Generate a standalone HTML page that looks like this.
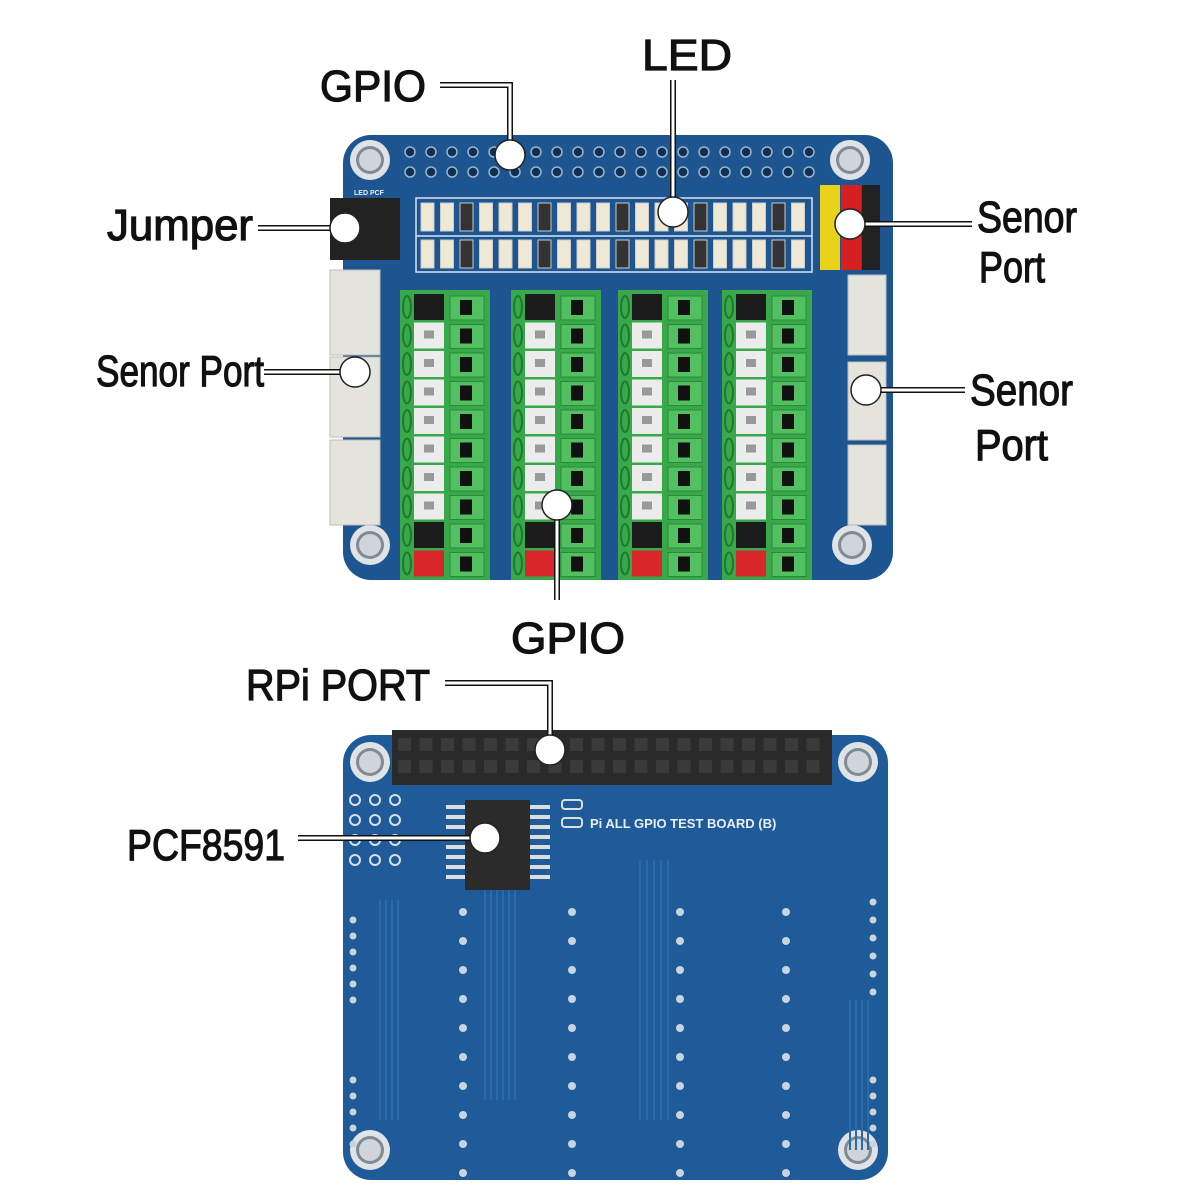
<!DOCTYPE html>
<html><head><meta charset="utf-8"><style>
html,body{margin:0;padding:0;background:#fff;}
svg{display:block;}
.lbl{font-family:"Liberation Sans",sans-serif;font-size:44px;fill:#111;stroke:#111;stroke-width:1.2px;}
.s{font-family:"Liberation Sans",sans-serif;font-size:7px;fill:#e8eef5;font-weight:bold;}
</style></head><body>
<svg id="sv" width="1200" height="1200" viewBox="0 0 1200 1200" xmlns="http://www.w3.org/2000/svg">
<rect width="1200" height="1200" fill="#fff"/>
<rect x="343" y="135" width="550" height="445" rx="28" fill="#1c5590"/>
<g id="top"></g>
<rect x="416" y="198" width="396" height="74" fill="none" stroke="#d8e4f0" stroke-width="1.5"/>
<line x1="416" y1="236" x2="812" y2="236" stroke="#d8e4f0" stroke-width="1.5"/>
<g id="leds"></g>
<rect x="330" y="198" width="70" height="62" fill="#222"/>
<text class="s" x="354" y="195">LED PCF</text>
<rect x="820" y="185" width="20" height="85" fill="#e8d21a"/>
<rect x="841" y="185" width="20" height="85" fill="#d42020"/>
<rect x="862" y="185" width="18" height="85" fill="#222"/>
<rect x="330" y="270" width="50" height="85" fill="#e4e4dc" stroke="#bbb"/>
<rect x="330" y="357" width="50" height="80" fill="#e4e4dc" stroke="#bbb"/>
<rect x="330" y="440" width="50" height="85" fill="#e4e4dc" stroke="#bbb"/>
<rect x="848" y="275" width="38" height="80" fill="#e4e4dc" stroke="#bbb"/>
<rect x="848" y="362" width="38" height="78" fill="#e4e4dc" stroke="#bbb"/>
<rect x="848" y="445" width="38" height="80" fill="#e4e4dc" stroke="#bbb"/>
<g id="terms"></g>
<rect x="343" y="735" width="545" height="445" rx="28" fill="#1f5b98"/>
<rect x="392" y="730" width="440" height="55" fill="#2a2a2a"/>
<g id="bot"></g>
<rect x="465" y="800" width="65" height="90" fill="#2b2b2b"/>
<text x="590" y="828" font-family="Liberation Sans,sans-serif" font-size="13" font-weight="bold" fill="#e8eef5">Pi ALL GPIO TEST BOARD (B)</text>
<rect x="562" y="800" width="20" height="9" rx="3" fill="none" stroke="#ddd" stroke-width="2"/>
<rect x="562" y="818" width="20" height="9" rx="3" fill="none" stroke="#ddd" stroke-width="2"/>
<g id="leaders"></g>
<text class="lbl" x="320" y="101" textLength="106" lengthAdjust="spacingAndGlyphs">GPIO</text>
<text class="lbl" x="642" y="70" textLength="90" lengthAdjust="spacingAndGlyphs">LED</text>
<text class="lbl" x="107" y="240" textLength="146" lengthAdjust="spacingAndGlyphs">Jumper</text>
<text class="lbl" x="96" y="386" font-size="40" textLength="168" lengthAdjust="spacingAndGlyphs">Senor Port</text>
<text class="lbl" x="977" y="232" font-size="40" textLength="100" lengthAdjust="spacingAndGlyphs">Senor</text>
<text class="lbl" x="979" y="282" font-size="40" textLength="66" lengthAdjust="spacingAndGlyphs">Port</text>
<text class="lbl" x="970" y="405" font-size="40" textLength="103" lengthAdjust="spacingAndGlyphs">Senor</text>
<text class="lbl" x="975" y="460" font-size="40" textLength="73" lengthAdjust="spacingAndGlyphs">Port</text>
<text class="lbl" x="511" y="653" textLength="114" lengthAdjust="spacingAndGlyphs">GPIO</text>
<text class="lbl" x="246" y="700" textLength="184" lengthAdjust="spacingAndGlyphs">RPi PORT</text>
<text class="lbl" x="127" y="860" textLength="158" lengthAdjust="spacingAndGlyphs">PCF8591</text>
</svg>
<script>
var NS="http://www.w3.org/2000/svg";
function el(p,t,a){var e=document.createElementNS(NS,t);for(var k in a)e.setAttribute(k,a[k]);document.getElementById(p).appendChild(e);return e;}
function hole(p,x,y){el(p,"circle",{cx:x,cy:y,r:20,fill:"#dfe3e6"});el(p,"circle",{cx:x,cy:y,r:14,fill:"#7e8a94"});el(p,"circle",{cx:x,cy:y,r:11,fill:"#cfd5da"});}
[[370,160],[850,160],[370,545],[852,545]].forEach(function(c){hole("top",c[0],c[1]);});
[[370,762],[858,762],[370,1150],[858,1150]].forEach(function(c){hole("bot",c[0],c[1]);});
for(var i=0;i<20;i++){var x=410+i*21;
 el("top","circle",{cx:x,cy:152,r:5,fill:"#0f2f55",stroke:"#9fb4c8","stroke-width":1.5});
 el("top","circle",{cx:x,cy:172,r:5,fill:"#0f2f55",stroke:"#9fb4c8","stroke-width":1.5});}
for(var r=0;r<2;r++)for(var i=0;i<20;i++){var x=421+i*19.5,y=203+r*37;
 el("leds","rect",{x:x,y:y,width:13,height:28,fill:(i%4==2?"#333":"#efe8d4"),stroke:"#ccc","stroke-width":1});}
for(var r=0;r<3;r++)for(var c=0;c<2;c++)el("top","rect",{x:343+c*30,y:206+r*18,width:8,height:6,fill:"#ddd"});
for(var r=0;r<4;r++)for(var c=0;c<3;c++)el("top","rect",{x:826+c*21,y:192+r*20,width:7,height:7,fill:"#ccc"});
var cols=[400,511,618,722];
cols.forEach(function(cx){
 el("terms","rect",{x:cx,y:290,width:90,height:290,fill:"#38a84a"});
 for(var r=0;r<10;r++){var y=294+r*28.5;
  var f=(r==0||r==8)?"#1b1b1b":(r==9?"#d8262a":"#ececec");
  el("terms","rect",{x:cx+14,y:y,width:30,height:26,fill:f});
  if(r>0&&r<8)el("terms","rect",{x:cx+24,y:y+8,width:10,height:8,fill:"#999"});
  el("terms","rect",{x:cx+50,y:y+2,width:34,height:24,fill:"#52c060",stroke:"#2a8a38","stroke-width":1});
  el("terms","rect",{x:cx+60,y:y+6,width:12,height:15,fill:"#111"});
  el("terms","ellipse",{cx:cx+7,cy:y+13,rx:4,ry:11,fill:"none",stroke:"#1e7a2e","stroke-width":2});
 }
});
for(var r=0;r<2;r++)for(var i=0;i<20;i++)el("bot","rect",{x:398+i*21.5,y:738+r*22,width:13,height:13,fill:"#3a3a3a"});
for(var i=0;i<8;i++){el("bot","rect",{x:446,y:805+i*10,width:20,height:4,fill:"#ddd"});el("bot","rect",{x:530,y:805+i*10,width:20,height:4,fill:"#ddd"});}
for(var r=0;r<4;r++)for(var c=0;c<3;c++)el("bot","circle",{cx:355+c*20,cy:800+r*20,r:5,fill:"none",stroke:"#d8e0e8","stroke-width":2});
[463,572,680,786].forEach(function(x){for(var r=0;r<10;r++)el("bot","circle",{cx:x,cy:912+r*29,r:4,fill:"#c8d4e0"});});
for(var r=0;r<6;r++){el("bot","circle",{cx:353,cy:920+r*16,r:3.5,fill:"#c8d4e0"});el("bot","circle",{cx:873,cy:902+r*18,r:3.5,fill:"#c8d4e0"});}
for(var r=0;r<5;r++){el("bot","circle",{cx:353,cy:1080+r*16,r:3.5,fill:"#c8d4e0"});el("bot","circle",{cx:873,cy:1080+r*16,r:3.5,fill:"#c8d4e0"});}
for(var i=0;i<6;i++){el("bot","line",{x1:485+i*6,y1:890,x2:485+i*6,y2:1100,stroke:"#2a6aaa","stroke-width":2});}
for(var i=0;i<5;i++){el("bot","line",{x1:640+i*7,y1:860,x2:640+i*7,y2:1120,stroke:"#2a6aaa","stroke-width":2});}
for(var i=0;i<4;i++){el("bot","line",{x1:850+i*6,y1:1000,x2:850+i*6,y2:1150,stroke:"#2a6aaa","stroke-width":2});el("bot","line",{x1:380+i*6,y1:900,x2:380+i*6,y2:1120,stroke:"#2a6aaa","stroke-width":2});}
function lead(pts,cx,cy){var d="M"+pts.map(function(p){return p.join(",")}).join(" L");
 el("leaders","path",{d:d,fill:"none",stroke:"#111","stroke-width":6});
 el("leaders","path",{d:d,fill:"none",stroke:"#fff","stroke-width":3});
 el("leaders","circle",{cx:cx,cy:cy,r:15,fill:"#fff",stroke:"#222","stroke-width":1.5});}
lead([[440,85],[510,85],[510,145]],510,155);
lead([[673,80],[673,200]],673,212);
lead([[258,228],[335,228]],345,228);
lead([[264,372],[340,372]],355,372);
lead([[972,224],[860,224]],850,224);
lead([[965,390],[880,390]],866,390);
lead([[557,520],[557,600]],557,505);
lead([[445,683],[550,683],[550,740]],550,750);
lead([[298,838],[470,838]],485,838);
</script>
</body></html>
